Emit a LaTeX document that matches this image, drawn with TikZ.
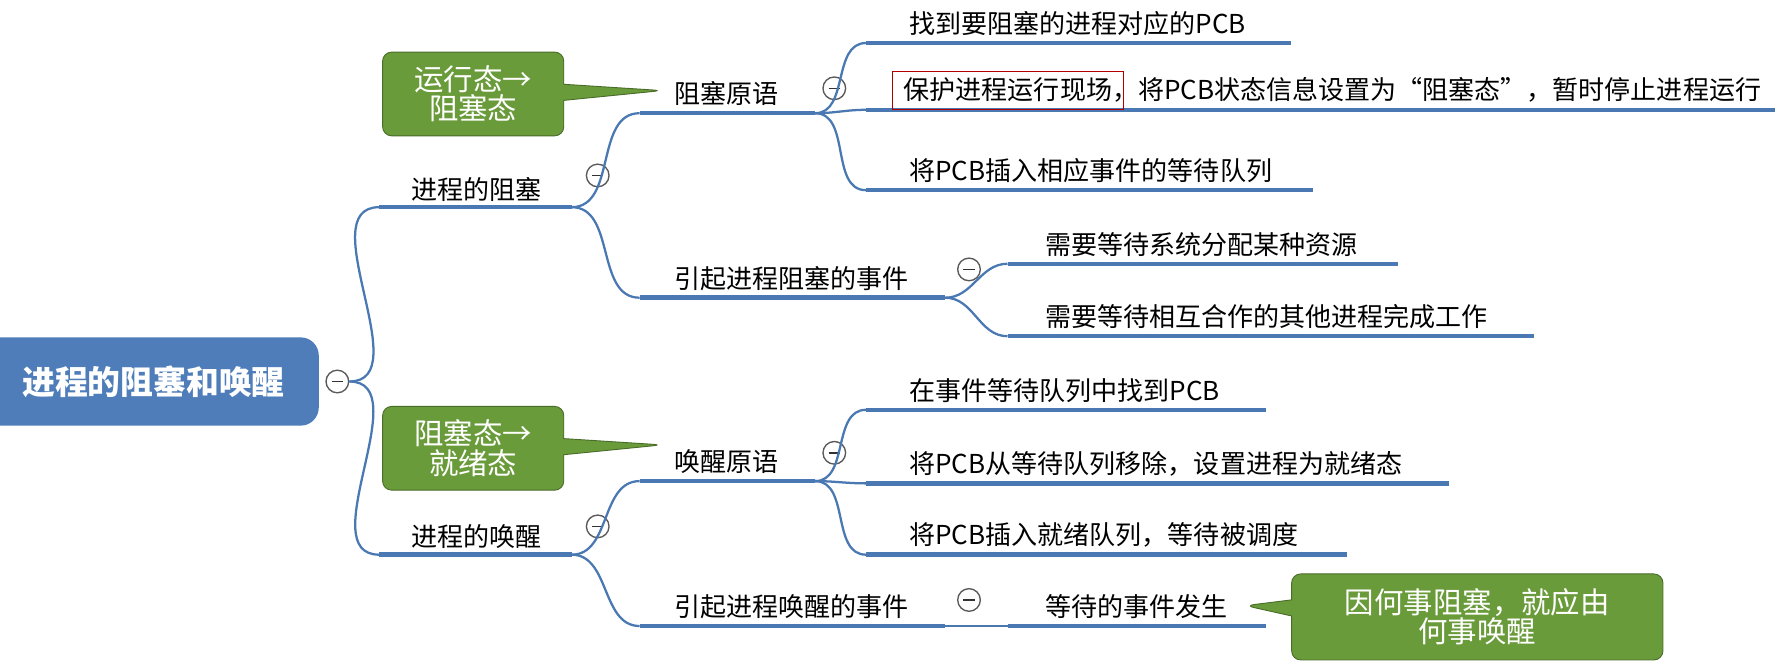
\documentclass[tikz,border=0pt]{standalone}
\usepackage{fontspec}
\setmainfont{Noto Sans CJK SC}
\usetikzlibrary{shapes.callouts}
\definecolor{lineblue}{HTML}{4A78B2}
\definecolor{rootblue}{HTML}{4F7DB9}
\definecolor{calgreen}{HTML}{6A9B3A}
\tikzset{x=0.5pt,y=-0.5pt,
 ul/.style={draw=lineblue,line width=2pt},
 br/.style={draw=lineblue,line width=1pt},
 lbl/.style={anchor=south west,inner sep=1.5pt,font=\fontsize{11.5}{13}\selectfont},
 tog/.style={circle,draw=gray!70!black,fill=white,line width=0.6pt,minimum size=10pt,inner sep=0pt,
   path picture={\draw[gray!40!black,line width=0.7pt] ([xshift=-2.5pt]path picture bounding box.center)--([xshift=2.5pt]path picture bounding box.center);}},
 callout/.style={rectangle callout,rounded corners=4pt,fill=calgreen,draw=calgreen!70!black,text=white,
   align=center,font=\fontsize{13}{15}\selectfont,inner sep=4pt}}
\begin{document}
\begin{tikzpicture}
\useasboundingbox (0,0) rectangle (1568,584);
% root
\node[fill=rootblue,rounded corners=8pt,text=white,font=\bfseries\fontsize{14.5}{16}\selectfont,minimum width=150pt,minimum height=39pt,anchor=east] (root) at (282,337) {\hspace*{4pt}进程的阻塞和唤醒};
\node[tog] (t0) at (298,337) {};
% level 1
\coordinate (a1) at (335,183); \coordinate (a2) at (505,183);
\coordinate (b1) at (335,490); \coordinate (b2) at (505,490);
\draw[br] (t0.east) to[out=0,in=180] (a1);
\draw[br] (t0.east) to[out=0,in=180] (b1);
\draw[ul] (a1)--(a2); \draw[ul] (b1)--(b2);
\node[lbl] (la) at (360,181) {进程的阻塞};
\node[lbl] (lb) at (360,488) {进程的唤醒};
\node[tog] (ta) at (528,155) {};
\node[tog] (tb) at (528,465) {};
% level 2 under blocking
\coordinate (c1) at (565,100); \coordinate (c2) at (720,100);
\coordinate (d1) at (565,263); \coordinate (d2) at (835,263);
\draw[br] (a2) to[out=0,in=180] (c1);
\draw[br] (a2) to[out=0,in=180] (d1);
\draw[ul] (c1)--(c2); \draw[ul] (d1)--(d2);
\node[lbl] (lc) at (592,97) {阻塞原语};
\node[lbl] (ld) at (592,260) {引起进程阻塞的事件};
\node[tog] (tc) at (737,78) {};
\node[tog] (td) at (856,238) {};
% level 2 under wakeup
\coordinate (e1) at (565,425); \coordinate (e2) at (720,425);
\coordinate (f1) at (565,553); \coordinate (f2) at (835,553);
\draw[br] (b2) to[out=0,in=180] (e1);
\draw[br] (b2) to[out=0,in=180] (f1);
\draw[ul] (e1)--(e2); \draw[ul] (f1)--(f2);
\node[lbl] (le) at (592,422) {唤醒原语};
\node[lbl] (lf) at (592,550) {引起进程唤醒的事件};
\node[tog] (te) at (737,400) {};
\node[tog] (tf) at (856,530) {};
% leaves of blocking primitive
\coordinate (g1) at (765,38); \coordinate (g2) at (1140,38);
\coordinate (h1) at (765,97); \coordinate (h2) at (1568,97);
\coordinate (i1) at (765,168); \coordinate (i2) at (1160,168);
\foreach \s in {g,h,i}{\draw[br] (c2) to[out=0,in=180] (\s1); \draw[ul] (\s1)--(\s2);}
\node[lbl] (lg) at (800,35) {找到要阻塞的进程对应的PCB};
\node[lbl] (lh) at (795,94) {保护进程运行现场，将PCB状态信息设置为“阻塞态”，暂时停止进程运行};
\node[lbl] (li) at (800,165) {将PCB插入相应事件的等待队列};
\node[draw=red!70!black,line width=0.6pt,minimum width=102pt,minimum height=17pt,anchor=west,inner sep=0pt] (redbox) at (788,80) {};
% leaves of blocking events
\coordinate (j1) at (890,233); \coordinate (j2) at (1235,233);
\coordinate (k1) at (890,297); \coordinate (k2) at (1355,297);
\foreach \s in {j,k}{\draw[br] (d2) to[out=0,in=180] (\s1); \draw[ul] (\s1)--(\s2);}
\node[lbl] (lj) at (920,230) {需要等待系统分配某种资源};
\node[lbl] (lk) at (920,294) {需要等待相互合作的其他进程完成工作};
% leaves of wakeup primitive
\coordinate (m1) at (765,362); \coordinate (m2) at (1118,362);
\coordinate (n1) at (765,427); \coordinate (n2) at (1280,427);
\coordinate (o1) at (765,490); \coordinate (o2) at (1190,490);
\foreach \s in {m,n,o}{\draw[br] (e2) to[out=0,in=180] (\s1); \draw[ul] (\s1)--(\s2);}
\node[lbl] (lm) at (800,359) {在事件等待队列中找到PCB};
\node[lbl] (ln) at (800,424) {将PCB从等待队列移除，设置进程为就绪态};
\node[lbl] (lo) at (800,487) {将PCB插入就绪队列，等待被调度};
% wakeup event leaf
\coordinate (p1) at (890,553); \coordinate (p2) at (1118,553);
\draw[br] (f2)--(p1); \draw[ul] (p1)--(p2);
\node[lbl] (lp) at (920,550) {等待的事件发生};
% callouts
\node[callout,minimum width=80pt,minimum height=37pt,callout absolute pointer={(585,80)}] (c1x) at (418,83) {运行态\textrightarrow\\[-2pt]阻塞态};
\node[callout,minimum width=80pt,minimum height=37pt,callout absolute pointer={(585,393)}] (c2x) at (418,396) {阻塞态\textrightarrow\\[-2pt]就绪态};
\node[callout,minimum width=164pt,minimum height=38pt,callout absolute pointer={(1100,535)}] (c3x) at (1305,545) {因何事阻塞，就应由\\[-2pt]何事唤醒};
\end{tikzpicture}
\end{document}
